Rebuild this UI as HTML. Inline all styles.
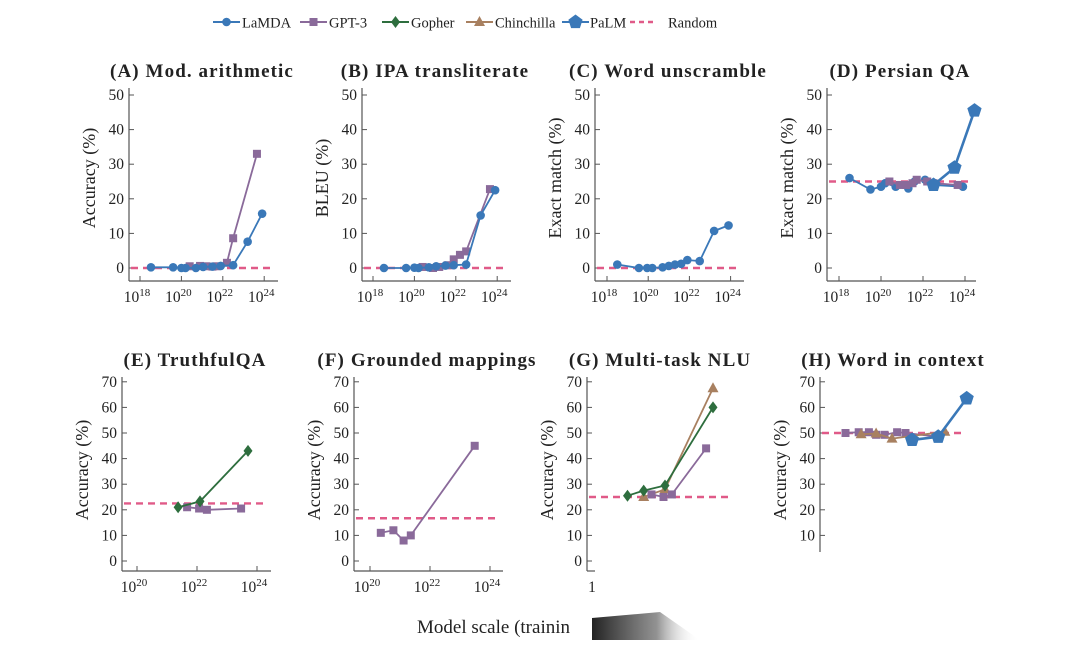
<!DOCTYPE html>
<html><head><meta charset="utf-8"><style>
html,body{margin:0;padding:0;background:#fff;}
svg{display:block;font-family:"Liberation Serif",serif;}
</style></head><body>
<svg id="c" width="1080" height="648" viewBox="0 0 1080 648" xmlns="http://www.w3.org/2000/svg">
<defs>
<linearGradient id="smudge" x1="0" x2="1" y1="0" y2="0">
<stop offset="0" stop-color="#222"/><stop offset="0.6" stop-color="#777" stop-opacity="0.8"/><stop offset="1" stop-color="#fff" stop-opacity="0"/>
</linearGradient>
</defs>
</svg>
<script>
const COL={lamda:'#3a78b8',gpt3:'#8a6a9a',gopher:'#2e6e3e',chin:'#a88060',palm:'#3a78b8',rand:'#e05a88'};
// Panel A
const aLamdaX=[18.53,19.6,20.0,20.2,20.7,21.05,21.5,21.9,22.5,23.2,23.9];
const aLamdaY=[0.2,0.2,0,0,0,0.3,0.4,0.6,0.8,7.6,15.7];
const aGptX=[20.4,20.9,21.2,21.5,21.7,22.2,22.5,23.65];
const aGptY=[0.5,0.6,0.5,0.4,0.5,1.5,8.6,33];
// Panel B
const bLamdaX=[18.53,19.6,20.0,20.2,20.7,21.05,21.5,21.9,22.5,23.2,23.9];
const bLamdaY=[0,0,0.1,0,0.2,0.5,0.7,0.8,1,15.2,22.5];
const bGptX=[20.4,20.9,21.2,21.6,21.9,22.2,22.5,23.65];
const bGptY=[0.3,0,0.3,0.8,2.5,3.8,4.8,22.8];
// Panel C
const cLamdaX=[18.5,19.55,19.95,20.2,20.7,21.0,21.3,21.6,21.9,22.5,23.2,23.9];
const cLamdaY=[1.0,0,0,0,0.2,0.6,1.0,1.2,2.3,2,10.7,12.3];
// Panel D
const dLamdaX=[18.5,19.5,20.0,20.2,20.7,21.3,21.6,22.1,22.5,23.9];
const dLamdaY=[26,22.7,23.5,24.5,23.5,23,25,25.5,24,23.5];
const dGptX=[20.4,20.9,21.2,21.5,21.7,22.2,22.5,23.65];
const dGptY=[25,24,24,24.5,25.5,25,24.5,24];
const dPalmX=[22.5,23.5,24.45];
const dPalmY=[24,29,45.5];
// Panel E
const eGopherX=[21.37,22.1,23.7];
const eGopherY=[21,23.3,43];
const eGptX=[21.67,22.07,22.33,23.47];
const eGptY=[21,20.5,20,20.5];
// Panel F
const fGptX=[20.36,20.78,21.12,21.36,23.49];
const fGptY=[11,12,8,10,45];
// Panel G
const gGopherX=[20.85,21.39,22.1,23.7];
const gGopherY=[25.5,27.5,29.5,60];
const gChinX=[21.39,22.1,23.7];
const gChinY=[25,28,67.5];
const gGptX=[21.65,22.05,22.33,23.47];
const gGptY=[26,25,26,44];
// Panel H
const hGptX=[20.35,20.79,21.13,21.37,21.65,22.07,22.35,23.46];
const hGptY=[50,50.3,50.3,49.3,49.3,50.3,50,48.5];
const hChinX=[20.87,21.37,21.9,23.66];
const hChinY=[49.5,49.8,47.8,50.5];
const hPalmX=[22.57,23.44,24.39];
const hPalmY=[47.3,48.5,63.5];
const randomLevels=[0,0,0,25,22.5,16.7,25,50];
const topTicks=[0,10,20,30,40,50];
const botTicks=[0,10,20,30,40,50,60,70];
const topXTicks=[18,20,22,24];
const botXTicks=[20,22,24];

const svg=document.getElementById('c');
const NS='http://www.w3.org/2000/svg';
function mk(tag,at,parent){const e=document.createElementNS(NS,tag);for(const k in at)e.setAttribute(k,at[k]);(parent||svg).appendChild(e);return e;}

function marker(g,type,x,y,c){
  let e;
  if(type==='circle'){e=mk('circle',{cx:x,cy:y,r:4.3,fill:c},g);}
  else if(type==='square'){e=mk('rect',{x:x-4,y:y-4,width:8,height:8,fill:c},g);}
  else if(type==='diamond'){e=mk('polygon',{points:`${x},${y-6} ${x+4.5},${y} ${x},${y+6} ${x-4.5},${y}`,fill:c},g);}
  else if(type==='tri'){e=mk('polygon',{points:`${x},${y-6} ${x+5.5},${y+4} ${x-5.5},${y+4}`,fill:c},g);}
  else {let p=[];for(let i=0;i<5;i++){const a=-Math.PI/2+i*2*Math.PI/5;p.push((x+7.5*Math.cos(a)).toFixed(1)+','+(y+7.5*Math.sin(a)).toFixed(1));}e=mk('polygon',{points:p.join(' '),fill:c},g);}
  
  
}

function panel(p){
  const g=mk('g',{});
  
  
  const sx=v=>p.x0+(v-p.xv0)*p.dec;
  const sy=v=>p.y0-v*p.ppu;
  const right=p.left+149;
  const t=mk('text',{x:p.left+73,y:p.titleY,'text-anchor':'middle','font-size':19,'font-weight':'bold','letter-spacing':1.1,fill:'#222'},g);
  t.textContent=p.title;
  
  
  const yax=mk('line',{x1:p.left,y1:p.top,x2:p.left,y2:p.axBottom,stroke:'#555','stroke-width':1.2},g);
  
  
  if(!p.noX){
    const xax=mk('line',{x1:p.left,y1:p.axBottom,x2:p.xEnd||right,y2:p.axBottom,stroke:'#555','stroke-width':1.2},g);
    
    
  }
  p.yt.forEach(v=>{
    if(p.minTick!==undefined&&v<p.minTick)return;
    mk('line',{x1:p.left,y1:sy(v),x2:p.left+5,y2:sy(v),stroke:'#555'},g);
    const l=mk('text',{x:p.left-5,y:sy(v)+5,'text-anchor':'end','font-size':15.5,fill:'#222'},g);
    l.textContent=v;
    
    
  });
  if(!p.noX){
    p.xt.forEach(v=>{
      if(p.xTickMax!==undefined&&v>p.xTickMax)return;
      const x=sx(v);
      mk('line',{x1:x,y1:p.axBottom,x2:x,y2:p.axBottom-5,stroke:'#555'},g);
      const l=mk('text',{x:x-3,y:p.axBottom+21,'text-anchor':'middle','font-size':15.5,fill:'#222'},g);
      l.textContent='10';
      const s=mk('tspan',{dy:-6,'font-size':11},l);
      s.textContent=v;
      
      
    });
  }
  if(p.partialX){
    const l=mk('text',{x:p.x0-10,y:p.axBottom+21,'text-anchor':'middle','font-size':15.5,fill:'#222'},g);
    l.textContent='1';
    
    
  }
  const yl=mk('text',{x:0,y:0,'text-anchor':'middle','font-size':18,fill:'#222',transform:`translate(${p.left-34},${p.ylY}) rotate(-90)`},g);
  yl.textContent=p.ylabel;
  
  
  const rl=mk('line',{x1:p.left+2,y1:sy(p.rand),x2:right-6,y2:sy(p.rand),stroke:COL.rand,'stroke-width':2.4,'stroke-dasharray':'7,5'},g);
  
  
  p.series.forEach(s=>{
    const pts=s.x.map((v,i)=>sx(v).toFixed(1)+','+sy(s.y[i]).toFixed(1)).join(' ');
    const pl=mk('polyline',{points:pts,fill:'none',stroke:s.c,'stroke-width':s.w||1.8},g);
    
    
    s.x.forEach((v,i)=>marker(g,s.m,sx(v),sy(s.y[i]),s.c));
  });
}
const TOP={top:88,axBottom:281,y0:268,ppu:3.46,yt:topTicks,xt:topXTicks,xv0:18,titleY:77,ylY:178};
const BOT={top:377,axBottom:571,y0:561,ppu:2.56,yt:botTicks,xt:botXTicks,xv0:20,titleY:366,ylY:470};
const L=(x,y)=>({x,y,c:COL.lamda,m:'circle',name:'lamda'});
const G=(x,y)=>({x,y,c:COL.gpt3,m:'square',name:'gpt3'});
const Go=(x,y)=>({x,y,c:COL.gopher,m:'diamond',name:'gopher'});
const Ch=(x,y)=>({x,y,c:COL.chin,m:'tri',name:'chinchilla'});
const Pa=(x,y)=>({x,y,c:COL.palm,m:'pent',name:'palm',w:2.6});
panel({...TOP,id:'a',left:129,x0:140,dec:20.7,title:'(A) Mod. arithmetic',ylabel:'Accuracy (%)',rand:randomLevels[0],series:[G(aGptX,aGptY),L(aLamdaX,aLamdaY)]});
panel({...TOP,id:'b',left:362,x0:373,dec:20.7,title:'(B) IPA transliterate',ylabel:'BLEU (%)',rand:randomLevels[1],series:[G(bGptX,bGptY),L(bLamdaX,bLamdaY)]});
panel({...TOP,id:'c',left:595,x0:607,dec:20.6,title:'(C) Word unscramble',ylabel:'Exact match (%)',rand:randomLevels[2],series:[L(cLamdaX,cLamdaY)]});
panel({...TOP,id:'d',left:827,x0:839,dec:21,title:'(D) Persian QA',ylabel:'Exact match (%)',rand:randomLevels[3],series:[L(dLamdaX,dLamdaY),G(dGptX,dGptY),Pa(dPalmX,dPalmY)]});
panel({...BOT,id:'e',left:122,x0:137,dec:30,title:'(E) TruthfulQA',ylabel:'Accuracy (%)',rand:randomLevels[4],series:[G(eGptX,eGptY),Go(eGopherX,eGopherY)]});
panel({...BOT,id:'f',left:354,x0:370,dec:30,title:'(F) Grounded mappings',ylabel:'Accuracy (%)',rand:randomLevels[5],series:[G(fGptX,fGptY)]});
panel({...BOT,id:'g',left:587,x0:602,dec:30,title:'(G) Multi-task NLU',ylabel:'Accuracy (%)',rand:randomLevels[6],xEnd:595,xTickMax:19,partialX:true,series:[Ch(gChinX,gChinY),Go(gGopherX,gGopherY),G(gGptX,gGptY)]});
panel({...BOT,id:'h',left:820,x0:835,dec:30,title:'(H) Word in context',ylabel:'Accuracy (%)',rand:randomLevels[7],axBottom:552,minTick:10,noX:true,series:[G(hGptX,hGptY),Ch(hChinX,hChinY),Pa(hPalmX,hPalmY)]});

const leg=[['LaMDA','circle',COL.lamda,213,242],['GPT-3','square',COL.gpt3,300,329],['Gopher','diamond',COL.gopher,382,411],['Chinchilla','tri',COL.chin,466,495],['PaLM','pent',COL.palm,562,590],['Random','dash',COL.rand,630,668]];
const lg=mk('g',{});


leg.forEach(e=>{
  const it=mk('g',{},lg);
  
  
  if(e[1]==='dash'){mk('line',{x1:e[3],y1:22,x2:e[3]+27,y2:22,stroke:e[2],'stroke-width':2.4,'stroke-dasharray':'5,4'},it);}
  else{mk('line',{x1:e[3],y1:22,x2:e[3]+27,y2:22,stroke:e[2],'stroke-width':2},it);marker(it,e[1],e[3]+13.5,22,e[2]);}
  const t=mk('text',{x:e[4],y:27.5,'font-size':14.5,fill:'#222'},it);t.textContent=e[0];
});
const xt=mk('text',{x:417,y:633,'font-size':19,fill:'#222'});
xt.textContent='Model scale (trainin';


const sm=mk('polygon',{points:'592,618 660,612 700,640 592,640',fill:'url(#smudge)'});


</script>
</body></html>
